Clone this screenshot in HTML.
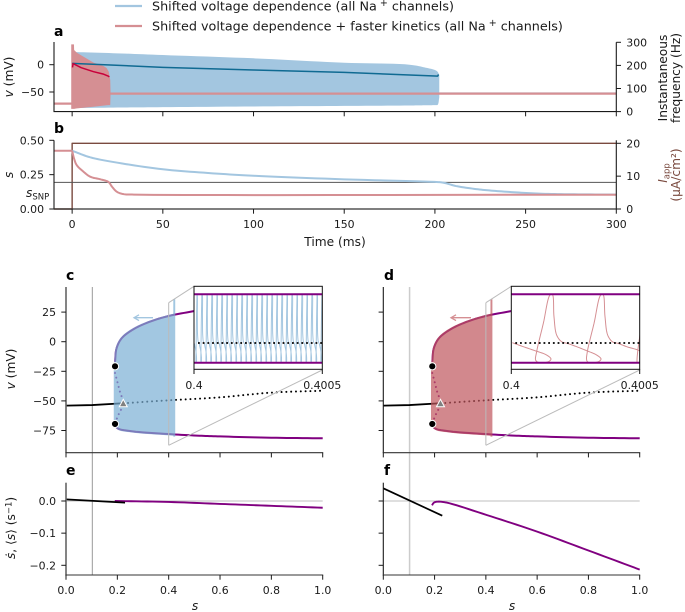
<!DOCTYPE html>
<html lang="en">
<head>
<meta charset="utf-8">
<title>Shifted sodium channel dynamics</title>
<style>
html,body{margin:0;padding:0;background:#fff;}
svg{display:block;}
text{font-family:"DejaVu Sans","Liberation Sans",sans-serif;font-size:10.9px;fill:#1a1a1a;}
.title{font-size:12.2px;}
.letter{font-weight:bold;font-size:14px;fill:#000;}
.legend{font-size:12.75px;}
.brown{fill:#7a4a3f;}
</style>
</head>
<body>
<svg id="chart" xmlns="http://www.w3.org/2000/svg" width="685" height="612" viewBox="0 0 685 612">
  <g id="layer"></g>

  <g>
    <line x1="115" x2="142" y1="6" y2="6" stroke="#a3c6e0" stroke-width="2.2"/>
    <text class="legend" x="152" y="10.5">Shifted voltage dependence (all Na<tspan dy="-4.5" font-size="9.5"> +</tspan><tspan dy="4.5"> channels)</tspan></text>
    <line x1="115" x2="142" y1="26" y2="26" stroke="#d58f93" stroke-width="2.2"/>
    <text class="legend" x="152" y="30.5">Shifted voltage dependence + faster kinetics (all Na<tspan dy="-4.5" font-size="9.5"> +</tspan><tspan dy="4.5"> channels)</tspan></text>
  </g>

  <text class="letter" x="54" y="36">a</text>
  <text class="letter" x="54" y="133">b</text>
  <text class="letter" x="66" y="280">c</text>
  <text class="letter" x="384" y="280">d</text>
  <text class="letter" x="66" y="475">e</text>
  <text class="letter" x="384" y="475">f</text>

  <text class="title" transform="translate(13,77) rotate(-90)" text-anchor="middle"><tspan font-style="italic">v</tspan> (mV)</text>
  <text class="title" transform="translate(667,78) rotate(-90)" text-anchor="middle">Instantaneous</text>
  <text class="title" transform="translate(680,78) rotate(-90)" text-anchor="middle">frequency (Hz)</text>
  <text class="title" transform="translate(13,175) rotate(-90)" text-anchor="middle" font-style="italic">s</text>
  <text class="title" x="26" y="197" font-style="italic">s<tspan dy="2.5" font-size="8.5" font-style="normal">SNP</tspan></text>
  <text class="title brown" transform="translate(667,173) rotate(-90)" text-anchor="middle"><tspan class="brown" font-style="italic">I</tspan><tspan class="brown" dy="2.5" font-size="8.5">app</tspan></text>
  <text class="title brown" transform="translate(680,175) rotate(-90)" text-anchor="middle">(µA/cm²)</text>
  <text class="title" x="335" y="246" text-anchor="middle">Time (ms)</text>
  <text class="title" transform="translate(15,369) rotate(-90)" text-anchor="middle"><tspan font-style="italic">v</tspan> (mV)</text>
  <text class="title" transform="translate(15,528) rotate(-90)" text-anchor="middle"><tspan font-style="italic">ṡ</tspan>, ⟨<tspan font-style="italic">s</tspan>⟩ (s<tspan dy="-3.5" font-size="8.5">−1</tspan><tspan dy="3.5">)</tspan></text>
  <text class="title" x="195" y="610" text-anchor="middle" font-style="italic">s</text>
  <text class="title" x="512" y="610" text-anchor="middle" font-style="italic">s</text>
</svg>

<script>
// ---- Panel a/b data ----
const timeTicks = [0, 50, 100, 150, 200, 250, 300];
const voltageTicks = [0, -50];
const freqTicks = [0, 100, 200, 300];
const sTicks = ['0.00', '0.25', '0.50'];
const iappTicks = [0, 10, 20];

const blueEnvT = [0.3, 3, 25, 50, 100, 150, 186, 195, 200, 201.5, 202.4];
const blueEnvTop = [23, 23, 20.8, 17.7, 11.7, 3.6, 0, -5.5, -9.7, -13, -19];
const blueEnvBottom = [-80, -79.5, -78.5, -77.8, -76.5, -75.5, -74.7, -74.3, -74, -73.5, -60];
const blueMeanT = [0, 50, 100, 150, 200, 201.5, 202];
const blueMeanV = [2.5, -4.8, -9.7, -14, -20.7, -21, -18];

const pinkEnvT = [-0.5, 1, 1.1, 2.6, 11.8, 17.3, 19, 20.2, 21, 21.2];
const pinkEnvTop = [37.3, 37.3, 27, 22, 3.7, -2.4, -6, -12.8, -28, -53];
const pinkEnvBottom = [-81, -81, -81, -80, -77, -75, -74.3, -74, -74, -53];
const pinkMeanT = [0.2, 0.5, 5, 11.8, 17, 20, 20.5];
const pinkMeanV = [-5, 2, -5.5, -12.8, -17, -21, -22.5];
const pinkRestBefore = -71.3;
const pinkRestAfter = -53;
const blueRestAfter = -52.2;

const sBlueT = [0, 10, 25, 50, 75, 100, 150, 200, 204.5, 211.7, 222.7, 231.9, 244.8, 259, 277, 300];
const sBlueV = [0.424, 0.376, 0.337, 0.289, 0.262, 0.242, 0.216, 0.197, 0.192, 0.167, 0.145, 0.133, 0.121, 0.111, 0.107, 0.105];
const sPinkBefore = 0.424;
const sPinkT = [0, 1, 2.5, 6.2, 10, 15.6, 20, 22, 24.6, 28, 34, 300];
const sPinkV = [0.424, 0.37, 0.32, 0.272, 0.235, 0.216, 0.197, 0.162, 0.126, 0.109, 0.105, 0.104];
const sSnp = 0.194;
const iappT = [-10, 0, 0, 300];
const iappV = [0, 0, 20, 20];

// ---- Bifurcation data (c, d) ----
const bifSTicks = ['0.0', '0.2', '0.4', '0.6', '0.8', '1.0'];
const bifVTicks = [25, 0, -25, -50, -75];
const upperS = [0.191, 0.197, 0.217, 0.262, 0.327, 0.4, 0.5];
const upperV = [-17, -5.6, 2.9, 10.4, 16.9, 21.7, 25.9];
const lowerS = [0.191, 0.2, 0.26, 0.4, 0.52, 0.6, 0.8, 1];
const lowerV = [-69.5, -73, -75.7, -78, -79.4, -80, -81.1, -81.6];
const saddleS = [0.191, 0.2, 0.21, 0.223, 0.204, 0.191];
const saddleV = [-26.4, -33.8, -42.2, -52, -61.9, -68.7];
const restS = [0, 0.1025, 0.223];
const restV = [-54, -53.5, -52];
const unstableS = [0.223, 0.4, 0.6, 0.8, 1];
const unstableV = [-52, -49.5, -47, -43, -41.4];
const kneeTopS = 0.191;
const kneeTopV = -20.8;
const kneeBottomS = 0.191;
const kneeBottomV = -69.5;
const snpS = 0.1025;

const fillTopS = [0.186, 0.188, 0.194, 0.215, 0.26, 0.327, 0.4, 0.4179];
const fillTopV = [-25, -16, -4.6, 3.9, 11.4, 17.9, 22.7, 23.6];
const fillBottomS = [0.186, 0.2, 0.26, 0.4, 0.4179];
const fillBottomV = [-69, -74.1, -76.8, -79.1, -79.4];
const fillSpikeS = [0.418, 0.4255];
const fillSpikeTop = 36;
const fillSpikeBottom = -80.2;

// ---- Inset data ----
const insetTickLabels = ['0.4', '0.4005'];
const insetUpperV = 21.4;
const insetLowerV = -77.9;
const insetUnstableV = -49.3;
// c: one cycle (offsets in 1e-6 of s from spike peak), repeated at the read spike positions
const blueCycleS = [0, 1, 2, 3, 6, 9, 12, 15, 17, 18, 17.5, 16, 15.5, 16, 17.5, 19.5];
const blueCycleV = [21, 21, -10, -38, -48, -50, -55, -60, -66, -72, -76, -77, -74, -62, -20, 21];
const blueSpikes = [-8, 11, 31, 50, 70, 89, 109, 128, 148, 167, 187, 206, 226, 245, 265, 284, 304, 323, 343, 362, 382, 401, 421, 440, 460, 479, 499];
// d: full trace (offset in 1e-6 of s from 0.4)
const pinkTraceS = [3.9, 46.8, 92.2, 137.7, 154.5, 144.2, 105.2, 94.8, 98.7, 124.7, 150.6, 159.7, 166.2, 176.6, 196.1, 218.2, 254.5, 293.5, 332.5, 349.4, 339, 300, 293.5, 296.1, 322.1, 348.1, 357.1, 364.9, 375.3, 393.5, 415.6, 449.4, 498.7, 505, 510, 500, 490.4, 489.6, 492.2, 502];
const pinkTraceV = [-48.8, -54.6, -60.4, -66.7, -72.5, -76.4, -77.4, -74, -61.9, -20.8, 20.4, 21.3, -11.1, -37.7, -47.4, -49.8, -54.6, -60.4, -66.7, -72.5, -76.4, -77.4, -74, -61.9, -20.8, 20.4, 21.3, -11.1, -37.7, -47.4, -49.8, -54.6, -60.4, -63, -72, -77, -77, -74, -61.9, -35];

// ---- Nullcline speed data (e, f) ----
const sdotTicks = ['0.0', '−0.1', '−0.2'];
const sdotTickValues = [0, -0.1, -0.2];
const eBlackS = [0, 0.23];
const eBlackV = [0.005, -0.005];
const ePurpleS = [0.19, 0.4, 0.6, 0.8, 1];
const ePurpleV = [0, -0.003, -0.009, -0.015, -0.021];
const fBlackS = [0, 0.23];
const fBlackV = [0.0395, -0.0457];
const fPurpleS = [0.19, 0.195, 0.2, 0.213, 0.247, 0.403, 0.6, 0.8, 1];
const fPurpleV = [-0.0134, -0.007, -0.004, -0.002, -0.005, -0.0435, -0.0953, -0.154, -0.2133];

// ---- Helpers ----
const NS = 'http://www.w3.org/2000/svg';
const layer = document.getElementById('layer');
function linear(d0, d1, r0, r1) {
  return function (v) { return r0 + (v - d0) * (r1 - r0) / (d1 - d0); };
}
function make(tag, attrs, name, parent) {
  const el = document.createElementNS(NS, tag);
  for (const k in attrs) el.setAttribute(k, attrs[k]);
  
  
  (parent || layer).appendChild(el);
  return el;
}
function toPixels(xs, ys, fx, fy) {
  return xs.map(function (x, i) { return [fx(x), fy(ys[i])]; });
}
// centripetal Catmull-Rom resampling in pixel space, so sparse readings draw as smooth curves
function spline(P) {
  if (P.length < 3) return P.slice();
  const out = [];
  function dist(a, b) { return Math.max(Math.sqrt(Math.hypot(a[0] - b[0], a[1] - b[1])), 1e-4); }
  function lerp(a, b, ta, tb, t) {
    const k = (t - ta) / (tb - ta);
    return [a[0] + (b[0] - a[0]) * k, a[1] + (b[1] - a[1]) * k];
  }
  for (let i = 0; i < P.length - 1; i++) {
    const p1 = P[i], p2 = P[i + 1];
    const p0 = i > 0 ? P[i - 1] : [2 * p1[0] - p2[0], 2 * p1[1] - p2[1]];
    const p3 = i < P.length - 2 ? P[i + 2] : [2 * p2[0] - p1[0], 2 * p2[1] - p1[1]];
    const t0 = 0, t1 = t0 + dist(p0, p1), t2 = t1 + dist(p1, p2), t3 = t2 + dist(p2, p3);
    for (let j = 0; j < 10; j++) {
      const t = t1 + (t2 - t1) * j / 10;
      const a1 = lerp(p0, p1, t0, t1, t), a2 = lerp(p1, p2, t1, t2, t), a3 = lerp(p2, p3, t2, t3, t);
      const b1 = lerp(a1, a2, t0, t2, t), b2 = lerp(a2, a3, t1, t3, t);
      out.push(lerp(b1, b2, t1, t2, t));
    }
  }
  out.push(P[P.length - 1]);
  return out;
}
function fmt(P) {
  return P.map(function (p) { return p[0].toFixed(2) + ',' + p[1].toFixed(2); }).join(' ');
}
function curve(xs, ys, fx, fy, style, name, parent) {
  const a = Object.assign({ points: fmt(toPixels(xs, ys, fx, fy)), fill: 'none', 'stroke-linejoin': 'round' }, style);
  return make('polyline', a, name, parent);
}
function smoothCurve(xs, ys, fx, fy, style, name, parent) {
  const a = Object.assign({ points: fmt(spline(toPixels(xs, ys, fx, fy))), fill: 'none', 'stroke-linejoin': 'round' }, style);
  return make('polyline', a, name, parent);
}
function band(xs, top, bottom, fx, fy, fill, name, smooth) {
  let t = toPixels(xs, top, fx, fy), b = toPixels(xs, bottom, fx, fy);
  if (smooth) { t = spline(t); b = spline(b); }
  return make('polygon', { points: fmt(t.concat(b.reverse())), fill: fill }, name);
}
function seg(x1, y1, x2, y2, stroke, w, name, parent) {
  return make('line', { x1: x1, y1: y1, x2: x2, y2: y2, stroke: stroke, 'stroke-width': w }, name, parent);
}
function label(txt, x, y, anchor, name, parent) {
  const t = make('text', { x: x, y: y, 'text-anchor': anchor }, name, parent);
  t.textContent = txt;
  return t;
}
function xTicks(values, labels, fx, y, name, len) {
  values.forEach(function (v, i) {
    seg(fx(v), y, fx(v), y + (len || 4.7), '#1a1a1a', 1, name + '-tick-' + i);
    if (labels) label(labels[i], fx(v), y + 19, 'middle', name + '-label-' + i);
  });
}
function yTicks(values, labels, fy, x, dir, name) {
  values.forEach(function (v, i) {
    seg(x, fy(v), x + dir * 4.7, fy(v), '#1a1a1a', 1, name + '-tick-' + i);
    if (labels) label(labels[i], x + dir * 10, fy(v) + 4, dir < 0 ? 'end' : 'start', name + '-label-' + i);
  });
}

// ---- Panel a ----
const tx = linear(-10, 300, 54, 616.3);
const vA = linear(0, -50, 64.7, 92);
const freqY = linear(0, 300, 111.6, 42.3);
seg(tx(202), vA(blueRestAfter), tx(300), vA(blueRestAfter), '#cfdfe9', 2, 'blue-rest-line');
band(blueEnvT, blueEnvTop, blueEnvBottom, tx, vA, '#a3c6e0', 'blue-spike-envelope', true);
band(pinkEnvT, pinkEnvTop, pinkEnvBottom, tx, vA, '#d58f93', 'pink-spike-envelope', false);
seg(tx(-10), vA(pinkRestBefore), tx(0), vA(pinkRestBefore), '#d58f93', 2.2, 'pink-rest-before');
seg(tx(21), vA(pinkRestAfter), tx(300), vA(pinkRestAfter), '#d58f93', 2.2, 'pink-rest-after');
curve(blueMeanT, blueMeanV, tx, vA, { stroke: '#0f6a92', 'stroke-width': 1.5 }, 'blue-frequency-line');
curve(pinkMeanT, pinkMeanV, tx, vA, { stroke: '#c8003a', 'stroke-width': 1.5 }, 'pink-frequency-line');
seg(54, 42, 54, 112, '#1a1a1a', 1.1, 'a-left-spine');
seg(616.3, 42.3, 616.3, 112, '#1a1a1a', 1.1, 'a-right-spine');
seg(53.5, 111.6, 616.8, 111.6, '#1a1a1a', 1.1, 'a-bottom-spine');
xTicks(timeTicks, null, tx, 111.6, 'a-x');
yTicks(voltageTicks, voltageTicks.map(function (v) { return String(v).replace('-', '−'); }), vA, 54, -1, 'a-y');
yTicks(freqTicks, freqTicks.map(String), freqY, 616.3, 1, 'a-y-right');

// ---- Panel b ----
const sY = linear(0, 0.5, 209, 140.3);
const iY = linear(0, 20, 209, 143.3);
curve(iappT, iappV, tx, iY, { stroke: '#7a4a3f', 'stroke-width': 1.4 }, 'iapp-line');
seg(54, sY(sSnp), 616.3, sY(sSnp), '#555', 1, 'snp-line');
smoothCurve(sBlueT, sBlueV, tx, sY, { stroke: '#a3c6e0', 'stroke-width': 2 }, 's-blue-line');
seg(tx(-10), sY(sPinkBefore), tx(0), sY(sPinkBefore), '#d58f93', 2, 's-pink-before');
smoothCurve(sPinkT, sPinkV, tx, sY, { stroke: '#d58f93', 'stroke-width': 2 }, 's-pink-line');
seg(54, 140.3, 54, 209.5, '#1a1a1a', 1.1, 'b-left-spine');
seg(616.3, 140.3, 616.3, 209.5, '#1a1a1a', 1.1, 'b-right-spine');
seg(53.5, 209, 616.8, 209, '#333', 1.2, 'b-bottom-spine');
xTicks(timeTicks, timeTicks.map(String), tx, 209, 'b-x');
yTicks(sTicks.map(Number), sTicks, sY, 54, -1, 'b-y');
yTicks(iappTicks, iappTicks.map(String), iY, 616.3, 1, 'b-y-right');

// ---- Panels c & d ----
function bifPanel(cfg) {
  const id = cfg.id;
  const sx = linear(0, 1, cfg.x0, cfg.x1);
  const vy = linear(0, -75, 341.7, 430.5);
  const spineCol = cfg.spine;
  const dots = { 'stroke-dasharray': '0.01 4.8', 'stroke-linecap': 'round' };
  seg(sx(snpS), 287, sx(snpS), 575, cfg.snpCol, cfg.snpW, id + '-snp-vertical');
  smoothCurve(upperS, upperV, sx, vy, { stroke: '#800080', 'stroke-width': 2 }, id + '-upper-branch');
  smoothCurve(lowerS, lowerV, sx, vy, { stroke: '#800080', 'stroke-width': 2 }, id + '-lower-branch');
  smoothCurve(saddleS, saddleV, sx, vy, Object.assign({ stroke: '#800080', 'stroke-width': 2 }, dots), id + '-saddle-branch');
  curve(restS, restV, sx, vy, { stroke: '#000', 'stroke-width': 1.8 }, id + '-rest-branch');
  smoothCurve(unstableS, unstableV, sx, vy, Object.assign({ stroke: '#000', 'stroke-width': 2 }, dots), id + '-unstable-branch');

  const fillOutline = spline(toPixels(fillTopS, fillTopV, sx, vy))
    .concat([[sx(fillSpikeS[0]), vy(fillSpikeTop)], [sx(fillSpikeS[1]), vy(fillSpikeTop)],
             [sx(fillSpikeS[1]), vy(fillSpikeBottom)], [sx(fillSpikeS[0]), vy(fillSpikeBottom)]])
    .concat(spline(toPixels(fillBottomS, fillBottomV, sx, vy)).reverse());
  make('polygon', { points: fmt(fillOutline), fill: cfg.fill, 'fill-opacity': 0.7 }, id + '-trajectory-fill');

  make('polyline', { points: sx(0.4) + ',302.7 ' + sx(0.4) + ',445.3', fill: 'none', stroke: '#bbb', 'stroke-width': 1 }, id + '-zoom-box');
  seg(sx(0.4), 302.7, cfg.insetX0, 286.3, '#bbb', 1, id + '-zoom-connector-top');
  seg(sx(0.4), 445.3, cfg.insetX1, 370, '#bbb', 1, id + '-zoom-connector-bottom');

  // arrow
  seg(cfg.arrow[0], 317.7, cfg.arrow[1], 317.7, cfg.line, 1.3, id + '-direction-arrow');
  make('polyline', { points: (cfg.arrow[1] + 5) + ',314.8 ' + cfg.arrow[1] + ',317.7 ' + (cfg.arrow[1] + 5) + ',320.6', fill: 'none', stroke: cfg.line, 'stroke-width': 1.3 }, id + '-arrow-head');

  // knees and saddle markers
  make('circle', { cx: sx(kneeTopS), cy: vy(kneeTopV), r: 3.6, fill: '#000', stroke: '#fff', 'stroke-width': 1 }, id + '-upper-knee');
  make('circle', { cx: sx(kneeBottomS), cy: vy(kneeBottomV), r: 3.6, fill: '#000', stroke: '#fff', 'stroke-width': 1 }, id + '-lower-knee');
  const tX = sx(saddleS[3]), tY = vy(saddleV[3]);
  make('polygon', { points: (tX - 4) + ',' + (tY + 3.5) + ' ' + (tX + 4) + ',' + (tY + 3.5) + ' ' + tX + ',' + (tY - 4), fill: '#808080', stroke: '#fff', 'stroke-width': 1 }, id + '-saddle-marker');

  // spines
  seg(cfg.x0, 287, cfg.x0, 453, spineCol, cfg.spineW, id + '-left-spine');
  seg(cfg.x0 - 0.5, 452.7, cfg.x1 + 0.5, 452.7, '#333', 1.1, id + '-bottom-spine');
  xTicks(bifSTicks.map(Number), null, sx, 452.7, id + '-x');
  yTicks(bifVTicks, id === 'c' ? bifVTicks.map(function (v) { return String(v).replace('-', '−'); }) : null, vy, cfg.x0, -1, id + '-y');

  // inset
  const ix = linear(0, 500, cfg.insetX0, cfg.insetX1);
  const iv = linear(33, -87.4, 286.3, 369.3);
  const g = make('g', {}, id + '-inset');
  make('rect', { x: cfg.insetX0, y: 286.3, width: cfg.insetX1 - cfg.insetX0, height: 83, fill: '#fff', stroke: 'none' }, id + '-inset-background', g);
  const clip = make('clipPath', { id: 'clip-' + id }, id + '-inset-clip', g);
  make('rect', { x: cfg.insetX0, y: 286.3, width: cfg.insetX1 - cfg.insetX0, height: 83 }, id + '-inset-clip-rect', clip);
  const traces = make('g', { 'clip-path': 'url(#clip-' + id + ')' }, id + '-inset-traces', g);
  cfg.drawTrace(ix, iv, traces);
  seg(cfg.insetX0, iv(insetUpperV), cfg.insetX1, iv(insetUpperV), '#800080', 2, id + '-inset-upper', g);
  seg(cfg.insetX0, iv(insetLowerV), cfg.insetX1, iv(insetLowerV), '#800080', 2, id + '-inset-lower', g);
  const dot = seg(cfg.insetX0 + 4, iv(insetUnstableV), cfg.insetX1, iv(insetUnstableV), '#000', 1.8, id + '-inset-unstable', g);
  dot.setAttribute('stroke-dasharray', '1.8 2.9');
  make('rect', { x: cfg.insetX0, y: 286.3, width: cfg.insetX1 - cfg.insetX0, height: 83, fill: 'none', stroke: '#111', 'stroke-width': 1 }, id + '-inset-frame', g);
  seg(cfg.insetX0, 369.3, cfg.insetX0, 374, '#111', 1, id + '-inset-tick-0', g);
  seg(cfg.insetX1, 369.3, cfg.insetX1, 374, '#111', 1, id + '-inset-tick-1', g);
  label(insetTickLabels[0], cfg.insetX0, 389, 'middle', id + '-inset-label-0', g);
  label(insetTickLabels[1], cfg.insetX1, 389, 'middle', id + '-inset-label-1', g);
}

bifPanel({
  id: 'c', x0: 66, x1: 322.7, insetX0: 194, insetX1: 322.3,
  fill: '#7bafd4', line: '#a3c6e0', snpCol: '#999', snpW: 1, spine: '#666', spineW: 1.6,
  arrow: [153, 134],
  drawTrace: function (ix, iv, parent) {
    blueSpikes.forEach(function (sp, i) {
      const shifted = blueCycleS.map(function (d) { return d + sp; });
      smoothCurve(shifted, blueCycleV, ix, iv, { stroke: '#a3c6e0', 'stroke-width': 1 }, 'c-inset-spike-' + i, parent);
    });
  }
});
bifPanel({
  id: 'd', x0: 383.3, x1: 639.7, insetX0: 511.3, insetX1: 639.7,
  fill: '#bf565d', line: '#d58f93', snpCol: '#ccc', snpW: 1.5, spine: '#1a1a1a', spineW: 1.1,
  arrow: [471, 451],
  drawTrace: function (ix, iv, parent) {
    smoothCurve(pinkTraceS, pinkTraceV, ix, iv, { stroke: '#d58f93', 'stroke-width': 1 }, 'd-inset-trace', parent);
  }
});

// ---- Panels e & f ----
function speedPanel(id, x0, x1, blackS, blackV, purpleS, purpleV, spineCol, spineW, withLabels) {
  const sx = linear(0, 1, x0, x1);
  const yy = linear(0, -0.2, 501, 565.3);
  seg(x0, yy(0), x1, yy(0), '#ccc', 1.3, id + '-zero-line');
  smoothCurve(purpleS, purpleV, sx, yy, { stroke: '#800080', 'stroke-width': 1.9 }, id + '-purple-line');
  curve(blackS, blackV, sx, yy, { stroke: '#000', 'stroke-width': 1.7 }, id + '-black-line');
  seg(x0, 482.7, x0, 575.5, spineCol, spineW, id + '-left-spine');
  seg(x0 - 0.5, 575, x1 + 0.5, 575, '#333', 1.1, id + '-bottom-spine');
  xTicks(bifSTicks.map(Number), bifSTicks, sx, 575, id + '-x');
  yTicks(sdotTickValues, withLabels ? sdotTicks : null, yy, x0, -1, id + '-y');
}
speedPanel('e', 66, 322.7, eBlackS, eBlackV, ePurpleS, ePurpleV, '#666', 1.6, true);
speedPanel('f', 383.3, 639.7, fBlackS, fBlackV, fPurpleS, fPurpleV, '#1a1a1a', 1.1, false);
</script>
</body>
</html>
